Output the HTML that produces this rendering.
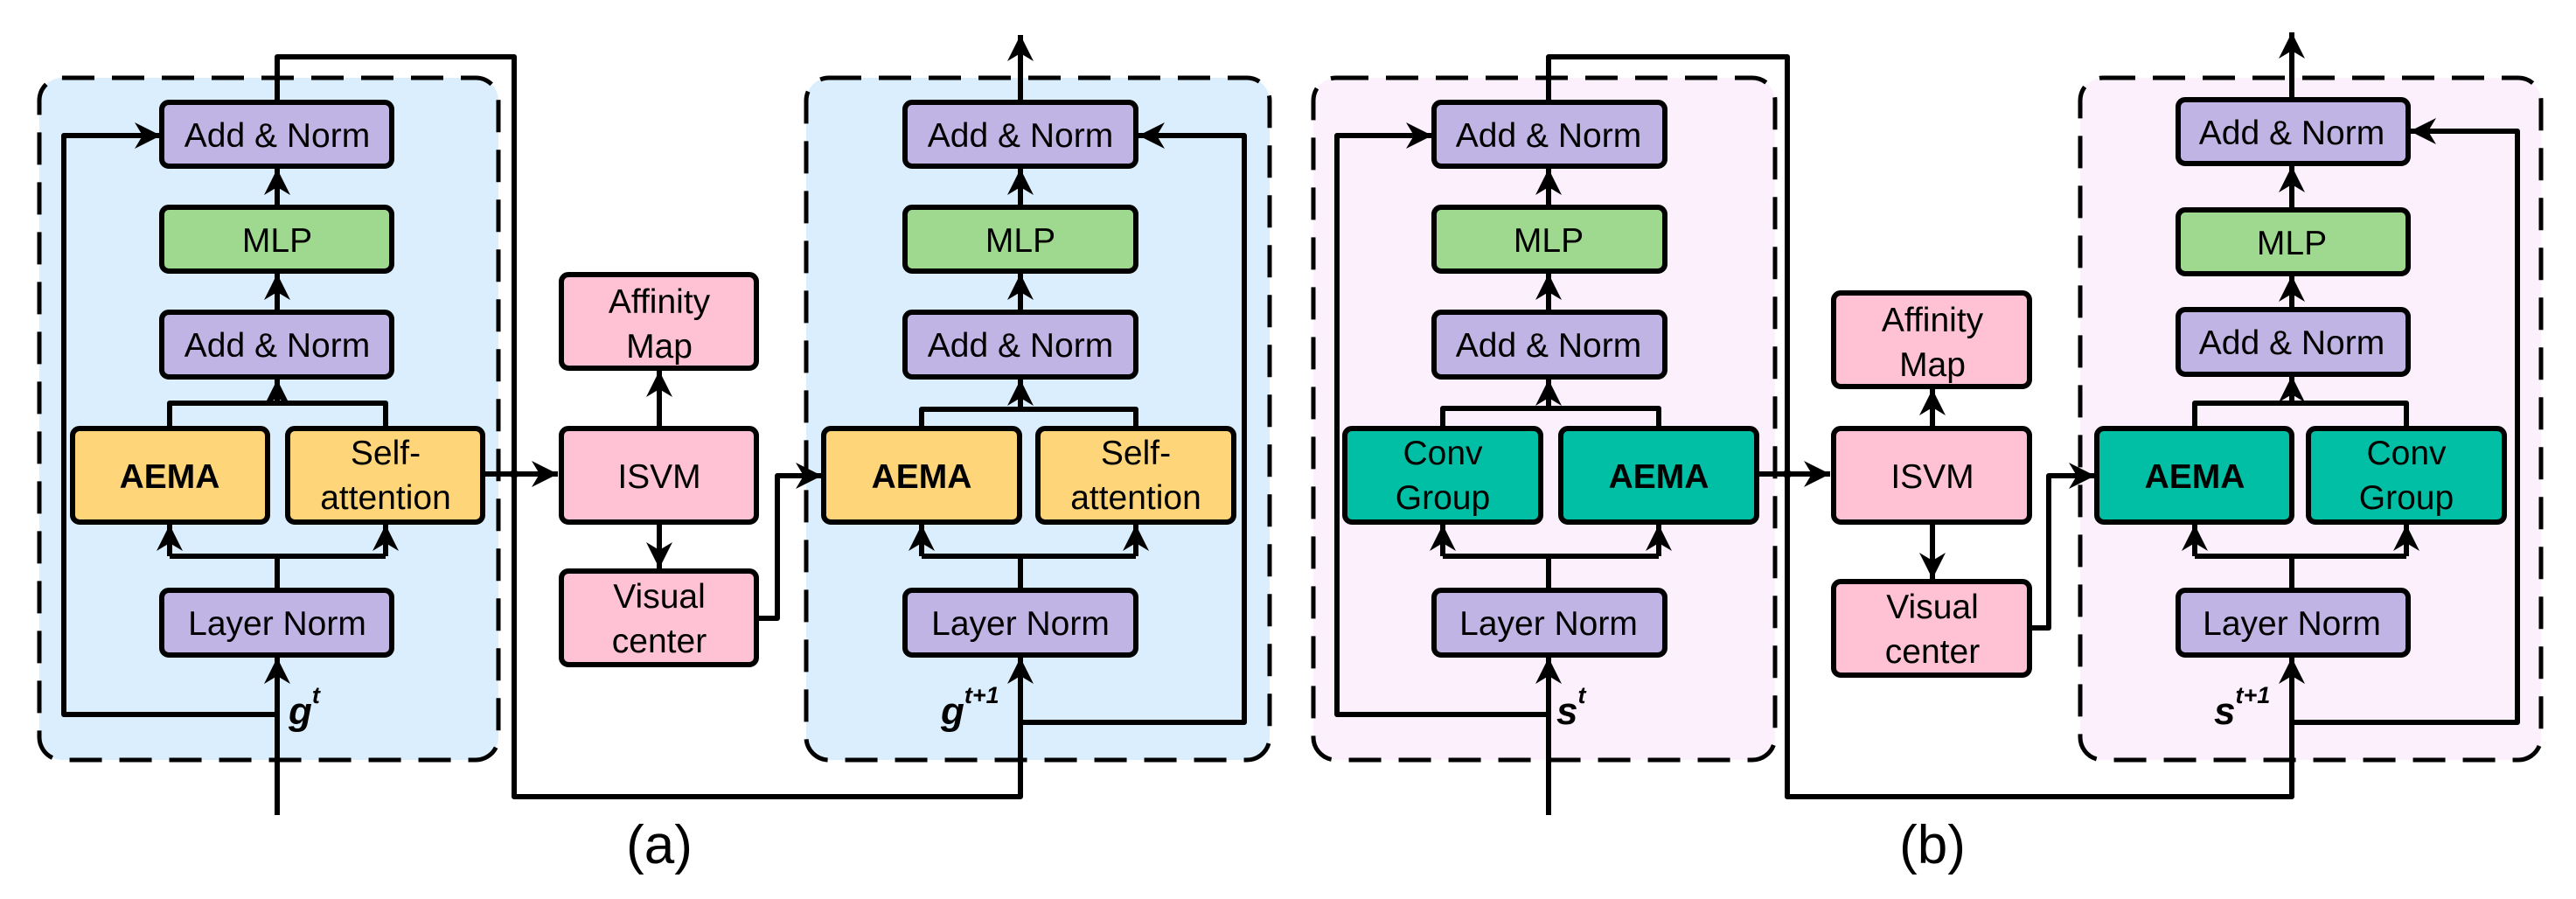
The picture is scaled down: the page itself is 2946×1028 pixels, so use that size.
<!DOCTYPE html>
<html><head><meta charset="utf-8"><style>
html,body{margin:0;padding:0;background:#fff;}
svg{display:block;}
text{font-family:"Liberation Sans",sans-serif;fill:#000;}
</style></head><body>
<svg width="2946" height="1028" viewBox="0 0 2946 1028" xmlns="http://www.w3.org/2000/svg">
<defs>
<marker id="ar" viewBox="0 0 10 10" refX="10" refY="5" markerWidth="5" markerHeight="5" markerUnits="strokeWidth" orient="auto">
<path d="M0,0 L10,5 L0,10 L3,5 z" fill="#000"/></marker>
</defs>
<g stroke="#000" stroke-width="5" stroke-dasharray="37 20">
<rect x="45" y="89" width="525" height="780" rx="26" fill="#dbeefd"/>
<rect x="922" y="89" width="530" height="780" rx="26" fill="#dbeefd"/>
<rect x="1502" y="89" width="528" height="780" rx="26" fill="#fcf0fd"/>
<rect x="2379" y="89" width="527" height="780" rx="26" fill="#fcf0fd"/>
</g>
<g stroke="#000" stroke-width="6" fill="none" stroke-linejoin="round">
<path d="M317,932 L317,752" marker-end="url(#ar)"/>
<path d="M317,817 L73,817 L73,155 L184,155" marker-end="url(#ar)"/>
<path d="M317,674 L317,636"/>
<path d="M194,636 L441,636"/>
<path d="M194,636 L194,600" marker-end="url(#ar)"/>
<path d="M441,636 L441,600" marker-end="url(#ar)"/>
<path d="M194,490 L194,461 L441,461 L441,490"/>
<path d="M317,461 L317,434" marker-end="url(#ar)"/>
<path d="M317,356 L317,313" marker-end="url(#ar)"/>
<path d="M317,237 L317,193" marker-end="url(#ar)"/>
<path d="M317,117 L317,65 L588,65 L588,911 L1167,911 L1167,752" marker-end="url(#ar)"/>
<path d="M552,542 L638,542" marker-end="url(#ar)"/>
<path d="M754,490 L754,424" marker-end="url(#ar)"/>
<path d="M754,598 L754,650" marker-end="url(#ar)"/>
<path d="M865,707 L889,707 L889,544 L940,544" marker-end="url(#ar)"/>
<path d="M1167,826 L1423,826 L1423,155 L1302,155" marker-end="url(#ar)"/>
<path d="M1167,674 L1167,636"/>
<path d="M1054,636 L1299,636"/>
<path d="M1054,636 L1054,600" marker-end="url(#ar)"/>
<path d="M1299,636 L1299,600" marker-end="url(#ar)"/>
<path d="M1054,490 L1054,468 L1299,468 L1299,490"/>
<path d="M1167,468 L1167,434" marker-end="url(#ar)"/>
<path d="M1167,356 L1167,313" marker-end="url(#ar)"/>
<path d="M1167,237 L1167,193" marker-end="url(#ar)"/>
<path d="M1167,117 L1167,40" marker-end="url(#ar)"/>
<path d="M1771,932 L1771,752" marker-end="url(#ar)"/>
<path d="M1771,817 L1529,817 L1529,155 L1638,155" marker-end="url(#ar)"/>
<path d="M1771,674 L1771,636"/>
<path d="M1650,636 L1897,636"/>
<path d="M1650,636 L1650,600" marker-end="url(#ar)"/>
<path d="M1897,636 L1897,600" marker-end="url(#ar)"/>
<path d="M1650,490 L1650,467 L1897,467 L1897,490"/>
<path d="M1771,467 L1771,434" marker-end="url(#ar)"/>
<path d="M1771,356 L1771,313" marker-end="url(#ar)"/>
<path d="M1771,237 L1771,193" marker-end="url(#ar)"/>
<path d="M1771,117 L1771,65 L2044,65 L2044,911 L2621,911 L2621,752" marker-end="url(#ar)"/>
<path d="M2010,542 L2093,542" marker-end="url(#ar)"/>
<path d="M2210,490 L2210,445" marker-end="url(#ar)"/>
<path d="M2210,598 L2210,662" marker-end="url(#ar)"/>
<path d="M2322,718 L2343,718 L2343,544 L2396,544" marker-end="url(#ar)"/>
<path d="M2621,826 L2879,826 L2879,150 L2756,150" marker-end="url(#ar)"/>
<path d="M2621,674 L2621,636"/>
<path d="M2510,636 L2752,636"/>
<path d="M2510,636 L2510,600" marker-end="url(#ar)"/>
<path d="M2752,636 L2752,600" marker-end="url(#ar)"/>
<path d="M2510,490 L2510,461 L2752,461 L2752,490"/>
<path d="M2621,461 L2621,430" marker-end="url(#ar)"/>
<path d="M2621,353 L2621,315" marker-end="url(#ar)"/>
<path d="M2621,239 L2621,190" marker-end="url(#ar)"/>
<path d="M2621,113 L2621,37" marker-end="url(#ar)"/>
</g>
<circle cx="588" cy="542" r="5" fill="#000"/>
<circle cx="2044" cy="542" r="5" fill="#000"/>
<g stroke="#000" stroke-width="6">
<rect x="185" y="117" width="263" height="73" rx="8" fill="#c0b4e4"/>
<rect x="185" y="237" width="263" height="73" rx="8" fill="#9fd98f"/>
<rect x="185" y="357" width="263" height="74" rx="8" fill="#c0b4e4"/>
<rect x="83" y="490" width="223" height="107" rx="8" fill="#ffd57a"/>
<rect x="329" y="490" width="223" height="107" rx="8" fill="#ffd57a"/>
<rect x="185" y="675" width="263" height="74" rx="8" fill="#c0b4e4"/>
<rect x="642" y="314" width="223" height="107" rx="8" fill="#ffc2d5"/>
<rect x="642" y="490" width="223" height="107" rx="8" fill="#ffc2d5"/>
<rect x="642" y="653" width="223" height="107" rx="8" fill="#ffc2d5"/>
<rect x="1035" y="117" width="264" height="73" rx="8" fill="#c0b4e4"/>
<rect x="1035" y="237" width="264" height="73" rx="8" fill="#9fd98f"/>
<rect x="1035" y="357" width="264" height="74" rx="8" fill="#c0b4e4"/>
<rect x="942" y="490" width="224" height="107" rx="8" fill="#ffd57a"/>
<rect x="1187" y="490" width="224" height="107" rx="8" fill="#ffd57a"/>
<rect x="1035" y="675" width="264" height="74" rx="8" fill="#c0b4e4"/>
<rect x="1640" y="117" width="264" height="73" rx="8" fill="#c0b4e4"/>
<rect x="1640" y="237" width="264" height="73" rx="8" fill="#9fd98f"/>
<rect x="1640" y="357" width="264" height="74" rx="8" fill="#c0b4e4"/>
<rect x="1538" y="490" width="224" height="107" rx="8" fill="#00bfa5"/>
<rect x="1785" y="490" width="224" height="107" rx="8" fill="#00bfa5"/>
<rect x="1640" y="675" width="264" height="74" rx="8" fill="#c0b4e4"/>
<rect x="2097" y="335" width="224" height="107" rx="8" fill="#ffc2d5"/>
<rect x="2097" y="490" width="224" height="107" rx="8" fill="#ffc2d5"/>
<rect x="2097" y="665" width="224" height="107" rx="8" fill="#ffc2d5"/>
<rect x="2491" y="114" width="263" height="73" rx="8" fill="#c0b4e4"/>
<rect x="2491" y="240" width="263" height="73" rx="8" fill="#9fd98f"/>
<rect x="2491" y="354" width="263" height="74" rx="8" fill="#c0b4e4"/>
<rect x="2398" y="490" width="223" height="107" rx="8" fill="#00bfa5"/>
<rect x="2640" y="490" width="224" height="107" rx="8" fill="#00bfa5"/>
<rect x="2491" y="675" width="263" height="74" rx="8" fill="#c0b4e4"/>
</g>
<g font-size="39" text-anchor="middle">
<text x="317" y="168">Add &amp; Norm</text>
<text x="317" y="288">MLP</text>
<text x="317" y="408">Add &amp; Norm</text>
<text x="194" y="558" font-weight="bold">AEMA</text>
<text x="441" y="531">Self-</text>
<text x="441" y="582">attention</text>
<text x="317" y="726">Layer Norm</text>
<text x="754" y="358">Affinity</text>
<text x="754" y="409">Map</text>
<text x="754" y="558">ISVM</text>
<text x="754" y="695">Visual</text>
<text x="754" y="746">center</text>
<text x="1167" y="168">Add &amp; Norm</text>
<text x="1167" y="288">MLP</text>
<text x="1167" y="408">Add &amp; Norm</text>
<text x="1054" y="558" font-weight="bold">AEMA</text>
<text x="1299" y="531">Self-</text>
<text x="1299" y="582">attention</text>
<text x="1167" y="726">Layer Norm</text>
<text x="1771" y="168">Add &amp; Norm</text>
<text x="1771" y="288">MLP</text>
<text x="1771" y="408">Add &amp; Norm</text>
<text x="1650" y="531">Conv</text>
<text x="1650" y="582">Group</text>
<text x="1897" y="558" font-weight="bold">AEMA</text>
<text x="1771" y="726">Layer Norm</text>
<text x="2210" y="379">Affinity</text>
<text x="2210" y="430">Map</text>
<text x="2210" y="558">ISVM</text>
<text x="2210" y="707">Visual</text>
<text x="2210" y="758">center</text>
<text x="2621" y="165">Add &amp; Norm</text>
<text x="2621" y="291">MLP</text>
<text x="2621" y="405">Add &amp; Norm</text>
<text x="2510" y="558" font-weight="bold">AEMA</text>
<text x="2752" y="531">Conv</text>
<text x="2752" y="582">Group</text>
<text x="2621" y="726">Layer Norm</text>
</g>
<g font-weight="bold" font-style="italic">
<text x="330" y="828" font-size="44">g<tspan dy="-24" font-size="27">t</tspan></text>
<text x="1076" y="828" font-size="44">g<tspan dy="-24" font-size="27">t+1</tspan></text>
<text x="1780" y="828" font-size="44">s<tspan dy="-24" font-size="27">t</tspan></text>
<text x="2532" y="828" font-size="44">s<tspan dy="-24" font-size="27">t+1</tspan></text>
</g>
<text x="754" y="987" font-size="62" text-anchor="middle">(a)</text>
<text x="2210" y="987" font-size="62" text-anchor="middle">(b)</text>
</svg>
</body></html>
